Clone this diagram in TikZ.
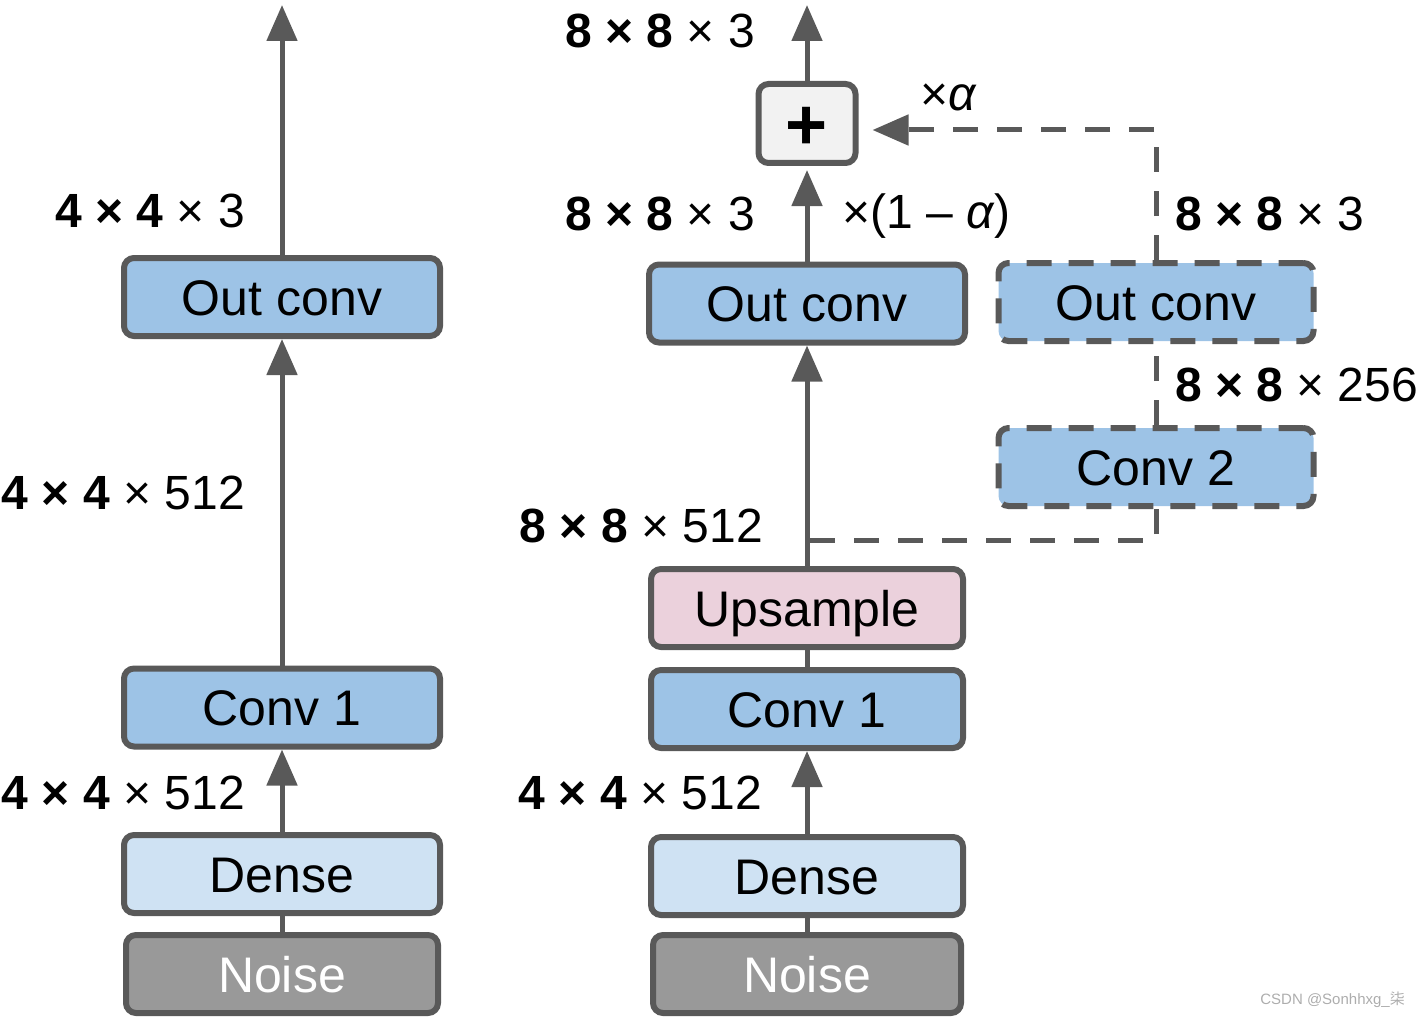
\documentclass[tikz,border=0pt]{standalone}
\usepackage{fontspec}
\setmainfont{Liberation Sans}
\newfontfamily\cjk{Noto Sans CJK SC}
\usetikzlibrary{arrows.meta}
\definecolor{ln}{HTML}{595959}
\definecolor{blu}{HTML}{9DC3E6}
\definecolor{lblu}{HTML}{CFE2F3}
\definecolor{pnk}{HTML}{EBD1DC}
\definecolor{nse}{HTML}{999999}
\definecolor{plg}{HTML}{F2F2F2}
\tikzset{
  box/.style={draw=ln, line width=6pt, rounded corners=10pt, minimum width=316pt, minimum height=78pt, inner sep=0pt, text height=36pt, text depth=0pt, font=\fontsize{50}{60}\selectfont},
  sbox/.style={box, minimum width=312pt},
  dbox/.style={box, minimum width=315pt, dash pattern=on 25pt off 17pt},
  conn/.style={draw=ln, line width=5pt},
  arr/.style={conn, -{Triangle[length=36pt,width=30pt]}},
  dconn/.style={conn, dash pattern=on 25pt off 19pt},
  lbl/.style={font=\fontsize{48}{56}\selectfont, inner sep=0pt}
}
\begin{document}
\begin{tikzpicture}[x=1pt,y=-1pt]
\useasboundingbox (0,0) rectangle (1420,1019);
% left column
\node[box, fill=blu] (oc1) at (282,297) {Out conv};
\node[box, fill=blu] (c1a) at (282,707.5) {Conv 1};
\node[box, fill=lblu] (d1) at (282,874) {Dense};
\node[box, minimum width=312pt, fill=nse, text=white] (n1) at (282,974) {Noise};
\coordinate (t1) at (282,5);
\draw[conn] (n1.north) -- (d1.south);
\draw[arr] (d1.north) -- (c1a.south);
\draw[arr] (c1a.north) -- (oc1.south);
\draw[arr] (oc1.north) -- (t1);
\node[lbl, anchor=east] (l1) at (245,211) {\textbf{4 × 4} × 3};
\node[lbl, anchor=east] (l2) at (245,493) {\textbf{4 × 4} × 512};
\node[lbl, anchor=east] (l3) at (245,793) {\textbf{4 × 4} × 512};
% right column
\node[box, fill=blu] (oc2) at (807,303.5) {Out conv};
\node[sbox, fill=pnk] (up) at (807,608) {Upsample};
\node[sbox, fill=blu] (c1b) at (807,709) {Conv 1};
\node[sbox, fill=lblu] (d2) at (807,876) {Dense};
\node[box, minimum width=308pt, fill=nse, text=white] (n2) at (807,974) {Noise};
\node[box, minimum width=97pt, minimum height=79pt, text height=51.6pt, text depth=0pt, fill=plg, font=\fontsize{72}{76}\selectfont\bfseries] (pl) at (807,123.5) {+};
\coordinate (t2) at (807,5);
\draw[conn] (n2.north) -- (d2.south);
\draw[arr] (d2.north) -- (c1b.south);
\draw[conn] (c1b.north) -- (up.south);
\draw[arr] (up.north) -- (oc2.south);
\draw[arr, shorten >=4pt] (oc2.north) -- (pl.south);
\draw[arr] (pl.north) -- (t2);
% dashed branch
\node[dbox, fill=blu] (oc3) at (1156,302) {Out conv};
\node[dbox, fill=blu] (c2) at (1156,467) {Conv 2};
\coordinate (sp) at (810,540);
\coordinate (dj) at (1156,130);
\draw[dconn] (sp) -| (c2.south);
\draw[dconn] (c2.north) -- (oc3.south);
\draw[dconn, -{Triangle[length=36pt,width=30pt]}, shorten >=14pt] (oc3.north) |- (pl.east |- dj);
% labels right
\node[lbl, anchor=east] (l4) at (755,31) {\textbf{8 × 8} × 3};
\node[lbl, anchor=east] (l5) at (755,214) {\textbf{8 × 8} × 3};
\node[lbl, anchor=west] (l6) at (842,216) {×(1 – \textit{α})};
\node[lbl, anchor=west] (l7) at (920,97) {×\textit{α}};
\node[lbl, anchor=west] (l8) at (1175,214) {\textbf{8 × 8} × 3};
\node[lbl, anchor=west] (l9) at (1175,385) {\textbf{8 × 8} × 256};
\node[lbl, anchor=east] (l10) at (763,526) {\textbf{8 × 8} × 512};
\node[lbl, anchor=east] (l11) at (762,793) {\textbf{4 × 4} × 512};
\node[anchor=east, inner sep=0pt, text=nse!80, font=\fontsize{15}{18}\selectfont] (wm) at (1405,1000) {CSDN @Sonhhxg\_{\cjk 柒}};
\end{tikzpicture}
\end{document}
